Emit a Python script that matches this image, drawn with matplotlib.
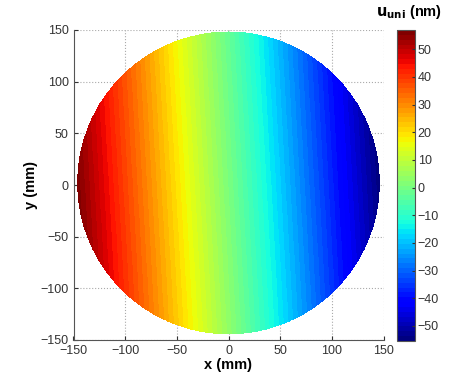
import numpy as np
import matplotlib
matplotlib.use("Agg")
import matplotlib.pyplot as plt

plt.rcParams['font.family'] = ['Liberation Sans', 'DejaVu Sans']

# plane fit: u = gx*x + gy*y + u0  (nm, x/y in mm)
gx = -0.38
gy = -0.021
u0 = 0.7
wafer_radius = 146.5
wafer_center = [0, 2]
cbar_range = [-55.5, 57]
axis_ticks = [-150, -100, -50, 0, 50, 100, 150]
cbar_ticks = [-50, -40, -30, -20, -10, 0, 10, 20, 30, 40, 50]

xs = np.linspace(-150, 150, 1201)
ys = np.linspace(-150, 150, 1201)
X, Y = np.meshgrid(xs, ys)
U = gx * X + gy * Y + u0
outside = (X - wafer_center[0])**2 + (Y - wafer_center[1])**2 > wafer_radius**2
U = np.ma.masked_where(outside, U)

fig = plt.figure(figsize=(4.72, 3.83), dpi=100)
ax = fig.add_axes([73.5 / 472, 1 - 340 / 383, 310 / 472, 310 / 383])
cmap = plt.get_cmap('jet', 64)
mesh = ax.pcolormesh(X, Y, U, cmap=cmap, vmin=cbar_range[0], vmax=cbar_range[1],
                     shading='auto', rasterized=True)

ax.set_xlim(-150, 150)
ax.set_ylim(-150, 150)
ax.set_xticks(axis_ticks)
ax.set_yticks(axis_ticks)
ax.grid(True, linestyle=':', color='#aaaaaa', linewidth=0.8)
ax.set_axisbelow(True)
for s in ['top', 'right']:
    ax.spines[s].set_visible(False)
for s in ['left', 'bottom']:
    ax.spines[s].set_color('#555555')
ax.tick_params(direction='in', length=3, labelsize=9, colors='#333333')
ax.set_xlabel('x (mm)', fontsize=10.5, fontweight='bold', labelpad=1)
ax.set_ylabel('y (mm)', fontsize=10.5, fontweight='bold', labelpad=2)

cax = fig.add_axes([397 / 472, 1 - 341 / 383, 18 / 472, 311 / 383])
cb = fig.colorbar(mesh, cax=cax, ticks=cbar_ticks)
cb.outline.set_edgecolor('#555555')
cb.ax.tick_params(direction='in', length=2, labelsize=9, colors='#333333', pad=2)
fig.text(409 / 472, 1 - 12 / 383, r'$\mathbf{u}_{\mathbf{uni}}$ (nm)', fontsize=10.5,
         fontweight='bold', ha='center', va='center')

fig.savefig('out.png', dpi=100)
